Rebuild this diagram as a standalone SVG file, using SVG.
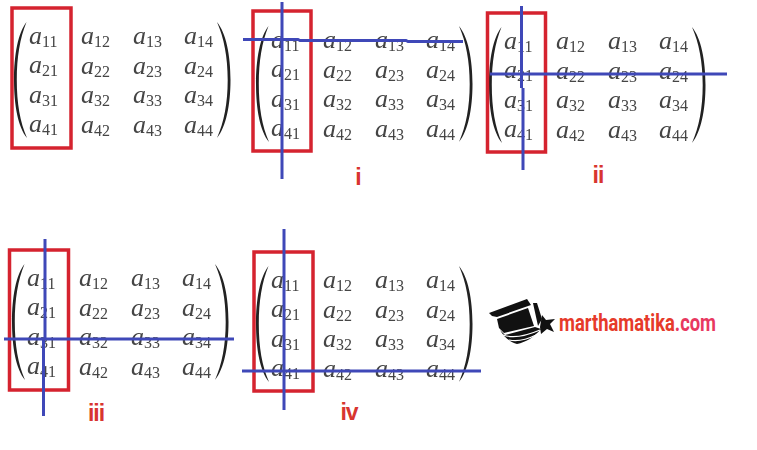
<svg xmlns="http://www.w3.org/2000/svg" width="757" height="450" viewBox="0 0 757 450">
<defs>
<path id="lp" d="M26.500 22 C18 33 14 55 14 80 C14 105 18 127 27 138 C20 122 16.800 103 16.800 80 C16.800 57 20 38 26.500 22 Z"/>
<path id="rp" d="M217 22 C226 33 230.500 55 230.500 80 C230.500 105 226 127 217 138 C224 122 227.700 103 227.700 80 C227.700 57 224 38 217 22 Z"/>
<filter id="soft" x="-5%" y="-5%" width="110%" height="110%"><feGaussianBlur stdDeviation="0.4"/></filter>
</defs>
<style>
.m{font-family:"Liberation Serif","DejaVu Serif",serif;font-size:26px;fill:#444;filter:url(#soft);transform:translateY(1px)}
.a{font-style:italic}
.s{font-size:16px;font-style:normal}
.p{fill:#222}
.box{fill:none;stroke:#d5232f;stroke-width:3.500}
.ln{fill:none;stroke:#3f48b8;stroke-width:3}
.lab{font-family:"Liberation Sans",Arial,sans-serif;font-size:23px;font-weight:bold;fill:#d8352f;text-anchor:middle;letter-spacing:-1px}
.logo{font-family:"Roboto","Liberation Sans",sans-serif;font-size:23px;font-weight:700}
</style>
<rect width="757" height="450" fill="#fff"/>

<g id="matrix-0">
<use href="#lp" class="p"/><use href="#rp" class="p"/>
<text class="m a" x="29" y="43">a<tspan class="s" dy="3">11</tspan></text><text class="m a" x="81" y="43">a<tspan class="s" dy="3">12</tspan></text><text class="m a" x="133" y="43">a<tspan class="s" dy="3">13</tspan></text><text class="m a" x="184" y="43">a<tspan class="s" dy="3">14</tspan></text>
<text class="m a" x="29" y="72">a<tspan class="s" dy="3">21</tspan></text><text class="m a" x="81" y="73">a<tspan class="s" dy="3">22</tspan></text><text class="m a" x="133" y="73">a<tspan class="s" dy="3">23</tspan></text><text class="m a" x="184" y="73">a<tspan class="s" dy="3">24</tspan></text>
<text class="m a" x="29" y="102">a<tspan class="s" dy="3">31</tspan></text><text class="m a" x="81" y="102">a<tspan class="s" dy="3">32</tspan></text><text class="m a" x="133" y="102">a<tspan class="s" dy="3">33</tspan></text><text class="m a" x="184" y="102">a<tspan class="s" dy="3">34</tspan></text>
<text class="m a" x="29" y="131">a<tspan class="s" dy="3">41</tspan></text><text class="m a" x="81" y="132">a<tspan class="s" dy="3">42</tspan></text><text class="m a" x="133" y="132">a<tspan class="s" dy="3">43</tspan></text><text class="m a" x="184" y="132">a<tspan class="s" dy="3">44</tspan></text>
<rect class="box" x="12" y="8" width="59" height="140"/>
</g>

<g id="matrix-i" transform="translate(242 4)">
<use href="#lp" class="p"/><use href="#rp" class="p"/>
<text class="m a" x="29" y="43">a<tspan class="s" dy="3">11</tspan></text><text class="m a" x="81" y="43">a<tspan class="s" dy="3">12</tspan></text><text class="m a" x="133" y="43">a<tspan class="s" dy="3">13</tspan></text><text class="m a" x="184" y="43">a<tspan class="s" dy="3">14</tspan></text>
<text class="m a" x="29" y="72">a<tspan class="s" dy="3">21</tspan></text><text class="m a" x="81" y="73">a<tspan class="s" dy="3">22</tspan></text><text class="m a" x="133" y="73">a<tspan class="s" dy="3">23</tspan></text><text class="m a" x="184" y="73">a<tspan class="s" dy="3">24</tspan></text>
<text class="m a" x="29" y="102">a<tspan class="s" dy="3">31</tspan></text><text class="m a" x="81" y="102">a<tspan class="s" dy="3">32</tspan></text><text class="m a" x="133" y="102">a<tspan class="s" dy="3">33</tspan></text><text class="m a" x="184" y="102">a<tspan class="s" dy="3">34</tspan></text>
<text class="m a" x="29" y="131">a<tspan class="s" dy="3">41</tspan></text><text class="m a" x="81" y="132">a<tspan class="s" dy="3">42</tspan></text><text class="m a" x="133" y="132">a<tspan class="s" dy="3">43</tspan></text><text class="m a" x="184" y="132">a<tspan class="s" dy="3">44</tspan></text>
<rect class="box" x="11" y="7" width="58" height="140"/>
</g>

<g id="matrix-ii" transform="translate(475 5)">
<use href="#lp" class="p"/><use href="#rp" class="p"/>
<text class="m a" x="29" y="43">a<tspan class="s" dy="3">11</tspan></text><text class="m a" x="81" y="43">a<tspan class="s" dy="3">12</tspan></text><text class="m a" x="133" y="43">a<tspan class="s" dy="3">13</tspan></text><text class="m a" x="184" y="43">a<tspan class="s" dy="3">14</tspan></text>
<text class="m a" x="29" y="72">a<tspan class="s" dy="3">21</tspan></text><text class="m a" x="81" y="73">a<tspan class="s" dy="3">22</tspan></text><text class="m a" x="133" y="73">a<tspan class="s" dy="3">23</tspan></text><text class="m a" x="184" y="73">a<tspan class="s" dy="3">24</tspan></text>
<text class="m a" x="29" y="102">a<tspan class="s" dy="3">31</tspan></text><text class="m a" x="81" y="102">a<tspan class="s" dy="3">32</tspan></text><text class="m a" x="133" y="102">a<tspan class="s" dy="3">33</tspan></text><text class="m a" x="184" y="102">a<tspan class="s" dy="3">34</tspan></text>
<text class="m a" x="29" y="131">a<tspan class="s" dy="3">41</tspan></text><text class="m a" x="81" y="132">a<tspan class="s" dy="3">42</tspan></text><text class="m a" x="133" y="132">a<tspan class="s" dy="3">43</tspan></text><text class="m a" x="184" y="132">a<tspan class="s" dy="3">44</tspan></text>
<rect class="box" x="12.500" y="8" width="58" height="139"/>
</g>

<g id="matrix-iii" transform="translate(-2 242)">
<use href="#lp" class="p"/><use href="#rp" class="p"/>
<text class="m a" x="29" y="43">a<tspan class="s" dy="3">11</tspan></text><text class="m a" x="81" y="43">a<tspan class="s" dy="3">12</tspan></text><text class="m a" x="133" y="43">a<tspan class="s" dy="3">13</tspan></text><text class="m a" x="184" y="43">a<tspan class="s" dy="3">14</tspan></text>
<text class="m a" x="29" y="72">a<tspan class="s" dy="3">21</tspan></text><text class="m a" x="81" y="73">a<tspan class="s" dy="3">22</tspan></text><text class="m a" x="133" y="73">a<tspan class="s" dy="3">23</tspan></text><text class="m a" x="184" y="73">a<tspan class="s" dy="3">24</tspan></text>
<text class="m a" x="29" y="102">a<tspan class="s" dy="3">31</tspan></text><text class="m a" x="81" y="102">a<tspan class="s" dy="3">32</tspan></text><text class="m a" x="133" y="102">a<tspan class="s" dy="3">33</tspan></text><text class="m a" x="184" y="102">a<tspan class="s" dy="3">34</tspan></text>
<text class="m a" x="29" y="131">a<tspan class="s" dy="3">41</tspan></text><text class="m a" x="81" y="132">a<tspan class="s" dy="3">42</tspan></text><text class="m a" x="133" y="132">a<tspan class="s" dy="3">43</tspan></text><text class="m a" x="184" y="132">a<tspan class="s" dy="3">44</tspan></text>
<rect class="box" x="11.500" y="8" width="59" height="140"/>
</g>

<g id="matrix-iv" transform="translate(242 244)">
<use href="#lp" class="p"/><use href="#rp" class="p"/>
<text class="m a" x="29" y="43">a<tspan class="s" dy="3">11</tspan></text><text class="m a" x="81" y="43">a<tspan class="s" dy="3">12</tspan></text><text class="m a" x="133" y="43">a<tspan class="s" dy="3">13</tspan></text><text class="m a" x="184" y="43">a<tspan class="s" dy="3">14</tspan></text>
<text class="m a" x="29" y="72">a<tspan class="s" dy="3">21</tspan></text><text class="m a" x="81" y="73">a<tspan class="s" dy="3">22</tspan></text><text class="m a" x="133" y="73">a<tspan class="s" dy="3">23</tspan></text><text class="m a" x="184" y="73">a<tspan class="s" dy="3">24</tspan></text>
<text class="m a" x="29" y="102">a<tspan class="s" dy="3">31</tspan></text><text class="m a" x="81" y="102">a<tspan class="s" dy="3">32</tspan></text><text class="m a" x="133" y="102">a<tspan class="s" dy="3">33</tspan></text><text class="m a" x="184" y="102">a<tspan class="s" dy="3">34</tspan></text>
<text class="m a" x="29" y="131">a<tspan class="s" dy="3">41</tspan></text><text class="m a" x="81" y="132">a<tspan class="s" dy="3">42</tspan></text><text class="m a" x="133" y="132">a<tspan class="s" dy="3">43</tspan></text><text class="m a" x="184" y="132">a<tspan class="s" dy="3">44</tspan></text>
<rect class="box" x="12" y="8" width="59" height="139"/>
</g>

<g id="connectors">
<path class="ln" d="M282 2V179M243 39.500H298L300 40.500H406L408 41.500H463"/>
<path class="ln" d="M521.500 6V88M523 88V170M490 74H727"/>
<path class="ln" d="M45 239V340M43.500 340V416M4 339H234"/>
<path class="ln" d="M284 229V410M242 371H481"/>
</g>

<g id="labels">
<text class="lab" x="358" y="185">i</text>
<text class="lab" x="598" y="183">ii</text>
<text class="lab" x="96" y="421">iii</text>
<text class="lab" x="349" y="420">iv</text>
</g>

<g id="logo">
<path fill="#111" d="M489 313L527 299L531 305L497 317L492 316Z"/>
<path fill="#111" d="M497 319L528 308L534 326L504 333L499 328Z"/>
<path fill="#111" d="M533 303L537 303L542 319L538 326Z"/>
<path fill="#111" d="M500 330L505 335L535 327L541 329C533 338 526 342 517 344C510 342 504 337 500 330Z"/>
<path fill="none" stroke="#fff" stroke-width="1.200" d="M503 335C514 339 526 336 540 330M509 340C518 342 528 339 536 335"/>
<path fill="#111" d="M542 315L546 320L555 319L550 324L554 332L547 329L541 334L540 327Z"/>
<text class="logo" transform="translate(559 331) scale(.8 1)" fill="#e63a2a">marthamatika<tspan fill="#e8385f">.com</tspan></text>
</g>
</svg>
